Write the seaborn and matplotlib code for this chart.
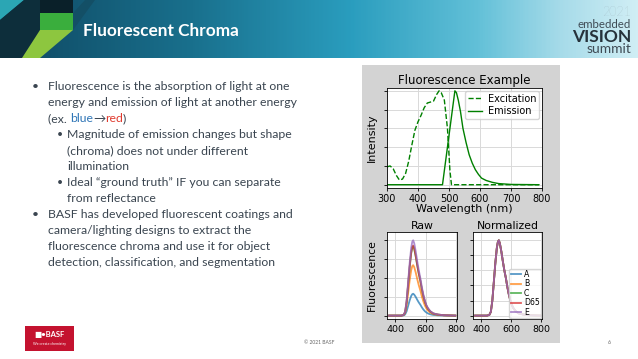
import numpy as np
import pandas as pd
import matplotlib
matplotlib.use("Agg")
import matplotlib.pyplot as plt
from matplotlib.colors import LinearSegmentedColormap
from matplotlib.patches import Polygon, Rectangle
import seaborn as sns

# ---------------- data ----------------
ex_wl = [300, 310, 320, 330, 340, 350, 360, 370, 380, 390, 400, 410, 420, 430, 440, 450,
         460, 468, 475, 485, 495, 503, 508, 520, 600, 700, 790]
ex_val = [0.19, 0.20, 0.17, 0.10, 0.05, 0.06, 0.12, 0.25, 0.42, 0.58, 0.67, 0.74, 0.82, 0.87,
          0.88, 0.89, 0.96, 1.00, 0.98, 0.90, 0.60, 0.15, 0.0, 0.0, 0.0, 0.0, 0.0]

em_wl = [300, 470, 479, 519, 524, 530, 537, 545, 555, 565, 575, 585, 595, 605, 620, 640,
         660, 700, 790]
em_val = [0.0, 0.0, 0.0, 1.0, 0.98, 0.90, 0.78, 0.60, 0.45, 0.32, 0.23, 0.16, 0.11, 0.07,
          0.045, 0.025, 0.012, 0.003, 0.0]

spec_wl = [360, 440, 455, 465, 475, 485, 495, 505, 512, 518, 525, 535, 545, 555, 565, 575,
           585, 595, 605, 615, 630, 650, 680, 720, 795]
raw_A = [0, 0, .003, .015, .058, .13, .203, .261, .284, .29, .278, .247, .209, .174, .145,
         .11, .081, .058, .041, .029, .017, .009, .004, .001, 0]
raw_B = [0, 0, .007, .034, .134, .302, .469, .603, .657, .67, .643, .57, .482, .402, .335,
         .255, .188, .134, .094, .067, .04, .02, .01, .003, 0]
raw_C = [0, 0, .009, .046, .184, .414, .644, .828, .902, .92, .883, .782, .662, .552, .46,
         .35, .258, .184, .129, .092, .055, .028, .014, .005, 0]
raw_D65 = [0, 0, .009, .047, .186, .419, .651, .837, .911, .93, .893, .791, .670, .558, .465,
           .353, .260, .186, .130, .093, .056, .028, .014, .005, 0]
raw_E = [0, 0, .01, .05, .2, .45, .7, .9, .98, 1.0, .96, .85, .72, .6, .5, .38, .28, .2,
         .14, .1, .06, .03, .015, .005, 0]
illuminants = ["A", "B", "C", "D65", "E"]
raw_series = [raw_A, raw_B, raw_C, raw_D65, raw_E]

bullets = [
    (1, "Fluorescence is the absorption of light at one"),
    (0, "energy and emission of light at another energy"),
    (0, None),  # colored line
    (2, "Magnitude of emission changes but shape"),
    (0, "(chroma) does not under different"),
    (0, "illumination"),
    (2, "Ideal \u201cground truth\u201d IF you can separate"),
    (0, "from reflectance"),
    (1, "BASF has developed fluorescent coatings and"),
    (0, "camera/lighting designs to extract the"),
    (0, "fluorescence chroma and use it for object"),
    (0, "detection, classification, and segmentation"),
]
line_levels = [1, 1, 1, 2, 2, 2, 2, 2, 1, 1, 1, 1]

# ---------------- figure ----------------
W, H = 638, 359
fig = plt.figure(figsize=(W / 100, H / 100), dpi=100)
bg = fig.add_axes([0, 0, 1, 1], zorder=0)
bg.set_xlim(0, W)
bg.set_ylim(H, 0)
bg.axis("off")

# header gradient
cmap = LinearSegmentedColormap.from_list(
    "hdr", [(0, "#0f4862"), (0.3, "#19708d"), (0.55, "#2a9dbe"), (0.75, "#62c0d8"),
            (0.88, "#a6dbe9"), (1.0, "#d0eef5")])
grad = np.linspace(0, 1, 400).reshape(1, -1)
bg.imshow(grad, cmap=cmap, extent=[0, W, 58, 0], aspect="auto", zorder=1)
shapes = [
    ([(0, 0), (24, 0), (0, 20)], "#2ba6b4"),
    ([(24, 0), (40, 0), (40, 58), (0, 58), (0, 20)], "#0d2e3b"),
    ([(40, 0), (73, 0), (73, 13), (40, 13)], "#0a2029"),
    ([(40, 13), (73, 13), (73, 30), (40, 30)], "#3aae3d"),
    ([(40, 30), (73, 30), (40, 58), (22, 58)], "#8dc63f"),
    ([(73, 13), (85, 0), (95, 0), (73, 30)], "#134f66"),
]
for pts, c in shapes:
    bg.add_patch(Polygon(pts, closed=True, color=c, zorder=2, lw=0))

bg.text(83, 31, "Fluorescent Chroma", color="white", fontsize=12.4, fontweight="bold",
        family="Lato", va="center", ha="left", zorder=3)
bg.text(631, 12, "2021", color="#93a7b1", fontsize=9, family="Lato", fontweight="light",
        ha="right", va="center", zorder=3)
bg.text(631, 24, "embedded", color="#3f4b55", fontsize=8.3, family="Lato", ha="right",
        va="center", zorder=3)
bg.text(631, 36.5, "VISION", color="#26323b", fontsize=12.5, family="Lato", fontweight="bold",
        ha="right", va="center", zorder=3)
bg.text(631, 49, "summit", color="#3f4b55", fontsize=10, family="Lato", ha="right",
        va="center", zorder=3)

# body text
txt_color = "#3a4550"
fs = 8.85
ys = [87, 103, 119, 135, 151, 167, 183, 199, 215, 231, 247, 263]
fig.canvas.draw()
renderer = fig.canvas.get_renderer()
for (kind, s), y, lvl in zip(bullets, ys, line_levels):
    tx = 48 if lvl == 1 else 67
    if kind == 1:
        bg.text(32, y, "\u2022", color=txt_color, fontsize=fs, family="Lato", va="center")
    elif kind == 2:
        bg.text(57, y, "\u2022", color=txt_color, fontsize=fs * 0.85, family="Lato", va="center")
    if s is not None:
        bg.text(tx, y, s, color=txt_color, fontsize=fs, family="Lato", va="center")
    else:
        x = tx
        for piece, col in [("(ex.\u00a0", txt_color), ("blue", "#2e75b6"), ("\u2192", txt_color),
                           ("red", "#e03a2e"), (")", txt_color)]:
            t = bg.text(x, y, piece, color=col, fontsize=fs, family=["Lato", "DejaVu Sans"],
                        va="center")
            bb = t.get_window_extent(renderer=renderer)
            x += bb.width * (W / fig.bbox.width)

# footer
bg.add_patch(Rectangle((25, 326), 49, 25, color="#c4122f", zorder=2, lw=0))
bg.text(49.5, 335, "\u25a0\u2022BASF", color="white", fontsize=5.5, fontweight="bold",
        family=["Lato", "DejaVu Sans"], ha="center", va="center", zorder=3)
bg.text(49.5, 344, "We create chemistry", color="white", fontsize=2.6, family="Lato",
        ha="center", va="center", zorder=3)
bg.text(319, 343, "\u00a9 2021 BASF", color="#666666", fontsize=3.6, family="Lato",
        ha="center", va="center")
bg.text(609, 343, "6", color="#666666", fontsize=3.8, family="Lato", ha="center", va="center")

# gray panel
bg.add_patch(Rectangle((362, 65), 198, 278, color="#d3d3d3", zorder=1, lw=0))

# ---------------- charts ----------------
def px_axes(x0, y0, x1, y1):
    return fig.add_axes([x0 / W, 1 - y1 / H, (x1 - x0) / W, (y1 - y0) / H], zorder=5)

tick_fs = 7
ax1 = px_axes(387, 88, 542, 188)
ex_df = pd.DataFrame({"wl": ex_wl, "val": ex_val})
em_df = pd.DataFrame({"wl": em_wl, "val": em_val})
sns.lineplot(data=ex_df, x="wl", y="val", ax=ax1, color="green", linestyle="--", lw=1.0,
             label="Excitation", errorbar=None, estimator=None)
sns.lineplot(data=em_df, x="wl", y="val", ax=ax1, color="green", lw=1.0,
             label="Emission", errorbar=None, estimator=None)
ax1.set_xlim(300, 800)
ax1.set_ylim(-0.035, 1.03)
ax1.set_xticks([300, 400, 500, 600, 700, 800])
ax1.set_yticks([0, 0.2, 0.4, 0.6, 0.8, 1.0])
ax1.set_yticklabels([])
ax1.grid(True, color="#d9d9d9", lw=0.7)
ax1.tick_params(labelsize=tick_fs, length=2.5, width=0.6, pad=1.5)
ax1.set_xlabel("Wavelength (nm)", fontsize=8, labelpad=0.5)
ax1.set_ylabel("Intensity", fontsize=8, labelpad=3)
ax1.set_title("Fluorescence Example", fontsize=8.5, pad=3)
ax1.legend(fontsize=7, loc="upper right", handlelength=1.4, borderpad=0.3,
           labelspacing=0.25, handletextpad=0.6, borderaxespad=0.3)
for sp in ax1.spines.values():
    sp.set_linewidth(0.6)

rows = []
for name, vals in zip(illuminants, raw_series):
    mx = max(vals)
    for w, v in zip(spec_wl, vals):
        rows.append({"wl": w, "raw": v, "norm": v / mx, "illum": name})
spec_df = pd.DataFrame(rows)
pal = sns.color_palette("tab10", 5)

ax2 = px_axes(387, 232, 457, 319)
ax3 = px_axes(473, 232, 542, 319)
sns.lineplot(data=spec_df, x="wl", y="raw", hue="illum", palette=pal, ax=ax2, lw=1.3,
             alpha=0.75, legend=False, errorbar=None, estimator=None)
sns.lineplot(data=spec_df, x="wl", y="norm", hue="illum", palette=pal, ax=ax3, lw=1.3,
             alpha=0.75, errorbar=None, estimator=None)
ax2.set_yticks([0, 0.25, 0.5, 0.75, 1.0])
ax3.set_yticks([0, 0.2, 0.4, 0.6, 0.8, 1.0])
for ax, title in [(ax2, "Raw"), (ax3, "Normalized")]:
    ax.set_xlim(346, 806)
    ax.set_ylim(-0.045, 1.11)
    ax.set_xticks([400, 600, 800])
    ax.set_yticklabels([])
    ax.grid(True, color="#d9d9d9", lw=0.7)
    ax.tick_params(labelsize=6.8, length=2.5, width=0.6, pad=1.5)
    ax.set_xlabel("")
    ax.set_title(title, fontsize=7.8, pad=2)
    for sp in ax.spines.values():
        sp.set_linewidth(0.6)
ax2.set_ylabel("Fluorescence", fontsize=7.8, labelpad=3)
ax3.set_ylabel("")
leg = ax3.legend(fontsize=5.6, loc="lower right", handlelength=1.3, borderpad=0.2,
                 labelspacing=0.05, handletextpad=0.4, borderaxespad=0.1, title=None)

fig.savefig("out.png", dpi=100)
